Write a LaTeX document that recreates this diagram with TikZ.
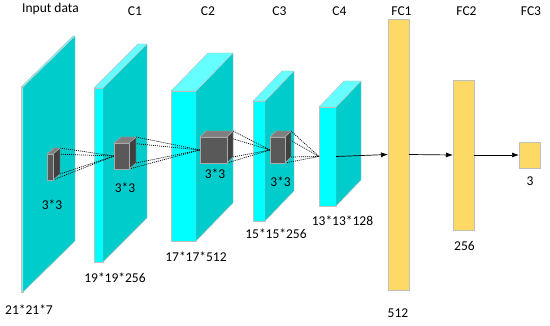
\documentclass[tikz,border=0pt]{standalone}
\usepackage{fontspec}
\setmainfont{Carlito}
\usepackage{tikz}
\usetikzlibrary{arrows.meta,positioning,calc}
\definecolor{layerside}{RGB}{0,204,204}
\definecolor{layerfront}{RGB}{0,255,255}
\definecolor{layertop}{RGB}{102,255,255}
\definecolor{edgegray}{RGB}{191,191,191}
\definecolor{kernfront}{RGB}{89,89,89}
\definecolor{kernside}{RGB}{64,64,64}
\definecolor{kerntop}{RGB}{127,127,127}
\definecolor{kernedge}{RGB}{170,170,170}
\definecolor{fcgold}{RGB}{255,217,102}
\tikzset{
  face/.style={draw=edgegray,line width=0.4pt,line join=round},
  front/.style={face,fill=layerfront,inner sep=0pt,outer sep=0pt},
  kface/.style={draw=kernedge,line width=0.4pt,line join=round},
  kfront/.style={kface,fill=kernfront,inner sep=0pt,outer sep=0pt,minimum height=26pt},
  fcbox/.style={draw=edgegray,fill=fcgold,inner sep=0pt,outer sep=0pt,minimum width=21pt},
  conv/.style={dash pattern=on 1pt off 1pt,line width=0.7pt,black},
  flow/.style={-{Latex[length=7pt,width=5pt]},line width=0.7pt,black},
  lbl/.style={anchor=base,inner sep=0pt,font=\fontsize{13.5}{15}\selectfont}
}
\begin{document}
\begin{tikzpicture}[x=1pt,y=-1pt]
  \useasboundingbox (0,0) rectangle (550,326);
  \node[front,fill=layertop,minimum width=2pt,minimum height=205pt] (in) at (22,189.5) {};
  \node[front,minimum width=9pt,minimum height=174pt] (c1) at (98.5,175) {};
  \node[front,minimum width=25pt,minimum height=150pt] (c2) at (183.5,166) {};
  \node[front,minimum width=12pt,minimum height=120pt] (c3) at (259,161) {};
  \node[front,minimum width=17pt,minimum height=99pt] (c4) at (327.5,156.5) {};
  \foreach \n/\dx/\dy in {in/52/51, c1/44/44, c2/37/38, c3/29/30, c4/25/26} {
    \draw[face,fill=layerside] (\n.north east) -- ++(\dx,-\dy) -- ($(\n.south east)+(\dx,-\dy)$) -- (\n.south east) -- cycle;
    \draw[face,fill=layertop] (\n.north west) -- ++(\dx,-\dy) -- ($(\n.north east)+(\dx,-\dy)$) -- (\n.north east) -- cycle;
  }

  \node[kfront,minimum width=6pt] (k0) at (50,167) {};
  \node[kfront,minimum width=15pt] (k1) at (121.5,156) {};
  \node[kfront,minimum width=27pt] (k2) at (213.5,150) {};
  \node[kfront,minimum width=15pt] (k3) at (277.5,150) {};
  \foreach \a/\b/\d in {k0/k1/7, k1/k2/7, k2/k3/6, k3/c4/6} {
    \draw[conv] (\a.north east) -- (\b.west);
    \draw[conv] ($(\a.north east)+(\d,-6)$) -- (\b.west);
    \draw[conv] (\a.south east) -- (\b.west);
    \draw[conv] ($(\a.south east)+(\d,-6)$) -- (\b.west);
  }
  \foreach \n/\d in {k0/7, k1/7, k2/6, k3/6} {
    \draw[kface,fill=kernside] (\n.north east) -- ++(\d,-6) -- ($(\n.south east)+(\d,-6)$) -- (\n.south east) -- cycle;
    \draw[kface,fill=kerntop] (\n.north west) -- ++(\d,-6) -- ($(\n.north east)+(\d,-6)$) -- (\n.north east) -- cycle;
  }
  \node[kfront,minimum width=6pt] at (k0) {};
  \node[kfront,minimum width=15pt] at (k1) {};
  \node[kfront,minimum width=27pt] at (k2) {};
  \node[kfront,minimum width=15pt] at (k3) {};

  \node[fcbox,minimum height=271pt] (fc1) at (398.5,154.5) {};
  \node[fcbox,minimum height=150pt] (fc2) at (463.5,155) {};
  \node[fcbox,minimum height=26pt] (fc3) at (529.5,155) {};
  \draw[flow] (c4.east) -- (fc1.west);
  \draw[flow] (fc1.east) -- (fc2.west);
  \draw[flow] (fc2.east) -- (fc3.west);

  \node[lbl] (tin) at (50.5,13) {Input data};
  \node[lbl] (tc1) at (135,16) {C1};
  \node[lbl] (tc2) at (208,16) {C2};
  \node[lbl] (tc3) at (279.5,16) {C3};
  \node[lbl] (tc4) at (339.5,16) {C4};
  \node[lbl] (tfc1) at (401.5,16) {FC1};
  \node[lbl] (tfc2) at (466.5,16) {FC2};
  \node[lbl] (tfc3) at (531,16) {FC3};

  \node[lbl] (sin) at (29,315) {21*21*7};
  \node[lbl] (sc1) at (115,283) {19*19*256};
  \node[lbl] (sc2) at (196,262) {17*17*512};
  \node[lbl] (sc3) at (276,239) {15*15*256};
  \node[lbl] (sc4) at (342.5,226) {13*13*128};
  \node[lbl] (sfc1) at (398,318) {512};
  \node[lbl] (sfc2) at (464.5,251) {256};
  \node[lbl] (sfc3) at (530,186) {3};

  \node[lbl] (sk0) at (52,210) {3*3};
  \node[lbl] (sk1) at (125,193) {3*3};
  \node[lbl] (sk2) at (215,179) {3*3};
  \node[lbl] (sk3) at (280.5,187) {3*3};
\end{tikzpicture}
\end{document}
